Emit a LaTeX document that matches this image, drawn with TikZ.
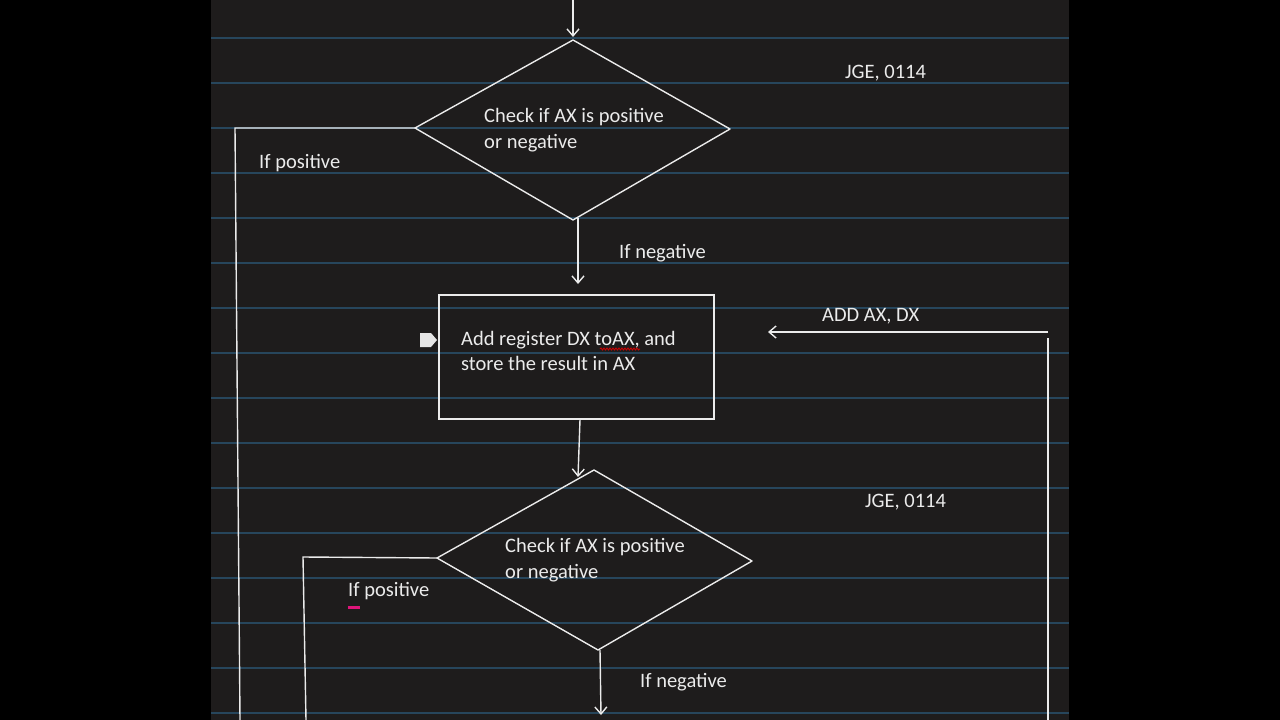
\documentclass[tikz,border=0pt]{standalone}
\usepackage{fontspec}
\setmainfont{Carlito}
\usetikzlibrary{arrows.meta,decorations.pathmorphing}
\definecolor{bgpage}{HTML}{1E1C1C}
\definecolor{rule}{HTML}{27465C}
\begin{document}
\begin{tikzpicture}[x=1pt,y=-1pt,
  ln/.style={draw=white!92!black,line width=1.4pt},
  arr/.style={ln,-{Straight Barb[length=7pt,width=12pt,line width=1.4pt]}},
  lbl/.style={text=white!92!black,font=\fontsize{20.5}{25.5}\selectfont,anchor=west,inner sep=0pt,align=left}]
\useasboundingbox (0,0) rectangle (1280,720);
\fill[black] (0,0) rectangle (1280,720);
\fill[bgpage] (211,0) rectangle (1069,720);
\foreach \y in {38,83,128,173,218,263,308,353,398,443,488,533,578,623,668,713}
  \draw[rule,line width=1.5pt] (211,\y) -- (1069,\y);
% diamond 1
\coordinate (d1t) at (573,40); \coordinate (d1l) at (415,128);
\coordinate (d1r) at (730,129); \coordinate (d1b) at (573,220);
\draw[ln,line join=round] (d1t)--(d1r)--(d1b)--(d1l)--cycle;
\coordinate (in) at (573,0);
\draw[arr] (in) -- (573,37);
\coordinate (l1a) at (235,128); \coordinate (l1b) at (240,720);
\draw[ln] (d1l) -- (l1a) -- (l1b);
\node[lbl] (t1) at (484,130) {Check if AX is positive\\or negative};
\node[lbl] (p1) at (259,163) {If positive};
\node[lbl] (n1) at (619,253) {If negative};
\node[lbl] (j1) at (845,73) {JGE, 0114};
% box
\node[ln,minimum width=275pt,minimum height=124pt,inner sep=0pt] (box) at (576.5,357) {};
\coordinate (a1e) at (578,284);
\draw[arr] (578,218) -- (a1e);
\node[lbl] (t2) at (461,351) {Add register DX toAX, and\\store the result in AX};
\draw[red!80!black,line width=0.9pt,decorate,decoration={snake,amplitude=1pt,segment length=3pt}] (600,349) -- (640,349);
\fill[white!90!black] (420,333) -- (431,333) -- (437,340) -- (431,347) -- (420,347) -- cycle;
% right loop
\coordinate (r1) at (1048,332); \coordinate (r2) at (768,332);
\draw[arr] (r1) -- (r2);
\coordinate (r3) at (1048,338); \coordinate (r4) at (1048,720);
\draw[ln] (r3) -- (r4);
\node[lbl] (a1) at (822,316) {ADD AX, DX};
% diamond 2
\coordinate (d2t) at (594,470); \coordinate (d2l) at (437,558);
\coordinate (d2r) at (752,561); \coordinate (d2b) at (598,650);
\draw[ln,line join=round] (d2t)--(d2r)--(d2b)--(d2l)--cycle;
\draw[arr] (box.south -| 580,0) -- (578,477);
\coordinate (l2a) at (303,557); \coordinate (l2b) at (306,720);
\draw[ln] (d2l) -- (l2a) -- (l2b);
\coordinate (o2) at (601,715);
\draw[arr] (600,650) -- (o2);
\node[lbl] (t3) at (505,560) {Check if AX is positive\\or negative};
\node[lbl] (p2) at (348,591) {If positive};
\fill[magenta!70!purple] (348,606) rectangle (360,609);
\node[lbl] (n2) at (640,682) {If negative};
\node[lbl] (j2) at (865,502) {JGE, 0114};
\end{tikzpicture}
\end{document}
